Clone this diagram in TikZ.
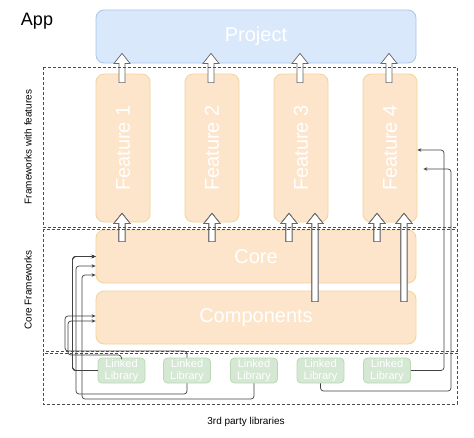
\documentclass[tikz,border=0pt]{standalone}
\usepackage{fontspec}
\setmainfont{Liberation Sans}
\usetikzlibrary{arrows.meta,calc}
\definecolor{projfill}{HTML}{DAE8FC}
\definecolor{projline}{HTML}{A9C4EB}
\definecolor{featfill}{HTML}{FDE5CC}
\definecolor{featline}{HTML}{F2D398}
\definecolor{libfill}{HTML}{D5E8D4}
\definecolor{libline}{HTML}{BAD8B2}
\newcommand\blkarrow[4]{\draw[blk] let \p1=($(#2)+(#1,0)$), \p2=(#3), \p3=(#4) in
  (\x1-3pt,\y2) -- (\x1-3pt,\y3-10pt) -- (\x1-8pt,\y3-10pt) -- (\x1,\y3)
  -- (\x1+8pt,\y3-10pt) -- (\x1+3pt,\y3-10pt) -- (\x1+3pt,\y2) -- cycle;}

\begin{document}
\begin{tikzpicture}[x=1pt,y=-1pt,
  proj/.style={draw=projline,fill=projfill,rounded corners=8pt,line width=0.8pt,text=white,font=\fontsize{20}{24}\selectfont},
  feat/.style={draw=featline,fill=featfill,rounded corners=8pt,line width=0.8pt,text=white,font=\fontsize{20}{24}\selectfont},
  lib/.style={draw=libline,fill=libfill,rounded corners=4pt,line width=0.8pt,minimum width=47pt,minimum height=25pt,inner sep=0pt,text=white,align=center,font=\fontsize{11}{12}\selectfont},
  frame/.style={draw=black!70,dash pattern=on 3pt off 2pt,line width=0.8pt},
  conn/.style={draw=black!75,line width=0.7pt,rounded corners=3pt,-{Stealth[length=4pt,width=3.5pt]}},
  blk/.style={draw=black!60,fill=white,line width=0.7pt},
  side/.style={font=\fontsize{10}{12}\selectfont}]
\useasboundingbox (0,0) rectangle (474,437);
\node[font=\fontsize{18}{20}\selectfont] (app) at (37,21) {App};
\node[proj,minimum width=320pt,minimum height=53pt] (project) at (256,36.5) {Project};
\foreach \x/\i in {123/1,212/2,301/3,390/4}
  \node[feat,minimum width=54pt,minimum height=148pt,label={[rotate=90,text=white,font=\fontsize{20}{24}\selectfont]center:Feature \i}] (f\i) at (\x,148) {};
\node[feat,minimum width=320pt,minimum height=53pt] (core) at (256,256.5) {Core};
\node[feat,minimum width=320pt,minimum height=53pt] (comp) at (256,317.5) {Components};
\foreach \x/\i in {121.5/1,187/2,254/3,320.5/4,387/5}
  \node[lib] (ll\i) at (\x,370.5) {Linked\\Library};
\foreach \i in {1,...,4}
  \blkarrow{-1}{f\i}{$(f\i.north)+(0,9)$}{$(project.south)+(0,-10)$}
\blkarrow{-1}{f1}{$(core.north)+(0,12)$}{$(f1.south)+(0,-9)$}
\blkarrow{0}{f2}{$(core.north)+(0,12)$}{$(f2.south)+(0,-9)$}
\blkarrow{-12}{f3}{$(core.north)+(0,12)$}{$(f3.south)+(0,-9)$}
\blkarrow{14}{f3}{$(comp.north)+(0,11)$}{$(f3.south)+(0,-9)$}
\blkarrow{-13}{f4}{$(core.north)+(0,12)$}{$(f4.south)+(0,-9)$}
\blkarrow{14}{f4}{$(comp.north)+(0,11)$}{$(f4.south)+(0,-9)$}
\draw[conn] (ll1.west) -- ++(-25,0) |- (core.west);
\draw[conn] (ll2.south) |- (76,394) |- ($(core.west)+(0,9.5)$);
\draw[conn] (ll3.south) |- (82,399) |- ($(core.west)+(0,18.5)$);
\draw[conn] (ll1.north) |- (68,355) |- ($(comp.west)+(0,3.5)$);
\draw[conn] (ll2.north) |- (65,351) |- ($(comp.west)+(0,-1.5)$);
\draw[conn] (ll5.east) -| (444,150) -- ($(f4.east)+(0,2)$);
\draw[conn] (ll4.south) |- (451,391) |- ($(f4.east)+(6,21)$);
\draw[frame] (43,67) rectangle (457,227);
\draw[frame] (43,229) rectangle (457,351);
\draw[frame] (43,353) rectangle (457,404);
\node[side,rotate=90] (fwlabel) at (28,147) {Frameworks with features};
\node[side,rotate=90] (corelabel) at (28,290) {Core Frameworks};
\node[side] (libslabel) at (246,422) {3rd party libraries};
\end{tikzpicture}
\end{document}
